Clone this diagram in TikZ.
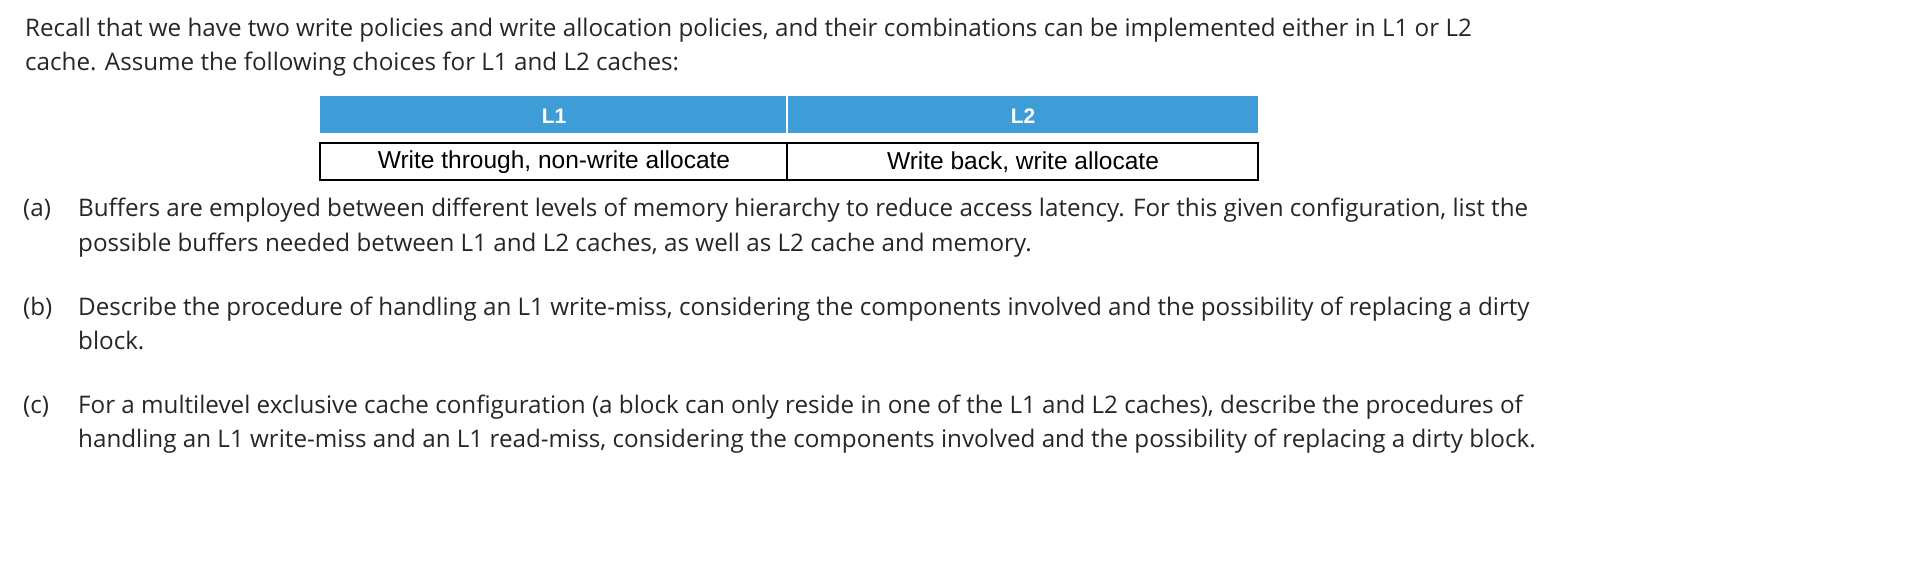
\documentclass[tikz,border=0pt]{standalone}
\usepackage{fontspec}
\setmainfont{Open Sans}
\newfontfamily\tabfont{Liberation Sans}
\definecolor{hdr}{HTML}{3E9DD6}
\definecolor{txt}{HTML}{262626}
\begin{document}
\begin{tikzpicture}[x=1pt,y=-1pt,
  body/.style={anchor=base west,inner sep=0pt,text=txt,font=\fontsize{24.2}{28}\selectfont},
  cell/.style={inner sep=0pt,font=\tabfont\fontsize{24.5}{28}\selectfont},
  hcell/.style={inner sep=0pt,text=white,font=\tabfont\bfseries\fontsize{21}{24}\selectfont}]
\useasboundingbox (0,0) rectangle (1918,580);
\node[body] (p1) at (25,37) {Recall that we have two write policies and write allocation policies, and their combinations can be implemented either in L1 or L2};
\node[body] (p2) at (25,71) {cache. Assume the following choices for L1 and L2 caches:};
% table
\fill[hdr] (320,96) rectangle (1258,133);
\draw[white,line width=2pt] (787,96) -- (787,133);
\draw[line width=1.2pt] (320,143) rectangle (1258,180);
\draw[line width=1.2pt] (787,143) -- (787,180);
\node[hcell] (h1) at (554,116) {L1};
\node[hcell] (h2) at (1023,116) {L2};
\node[cell] (c1) at (554,162) {Write through, non-write allocate};
\node[cell] (c2) at (1023,162) {Write back, write allocate};
% items
\node[body] (la) at (23,216) {(a)};
\node[body] (a1) at (78,216) {Buffers are employed between different levels of memory hierarchy to reduce access latency. For this given configuration, list the};
\node[body] (a2) at (78,251) {possible buffers needed between L1 and L2 caches, as well as L2 cache and memory.};
\node[body] (lb) at (23,315) {(b)};
\node[body] (b1) at (78,315) {Describe the procedure of handling an L1 write-miss, considering the components involved and the possibility of replacing a dirty};
\node[body] (b2) at (78,349) {block.};
\node[body] (lc) at (23,413) {(c)};
\node[body] (c1t) at (78,413) {For a multilevel exclusive cache configuration (a block can only reside in one of the L1 and L2 caches), describe the procedures of};
\node[body] (c2t) at (78,447) {handling an L1 write-miss and an L1 read-miss, considering the components involved and the possibility of replacing a dirty block.};
\end{tikzpicture}
\end{document}
